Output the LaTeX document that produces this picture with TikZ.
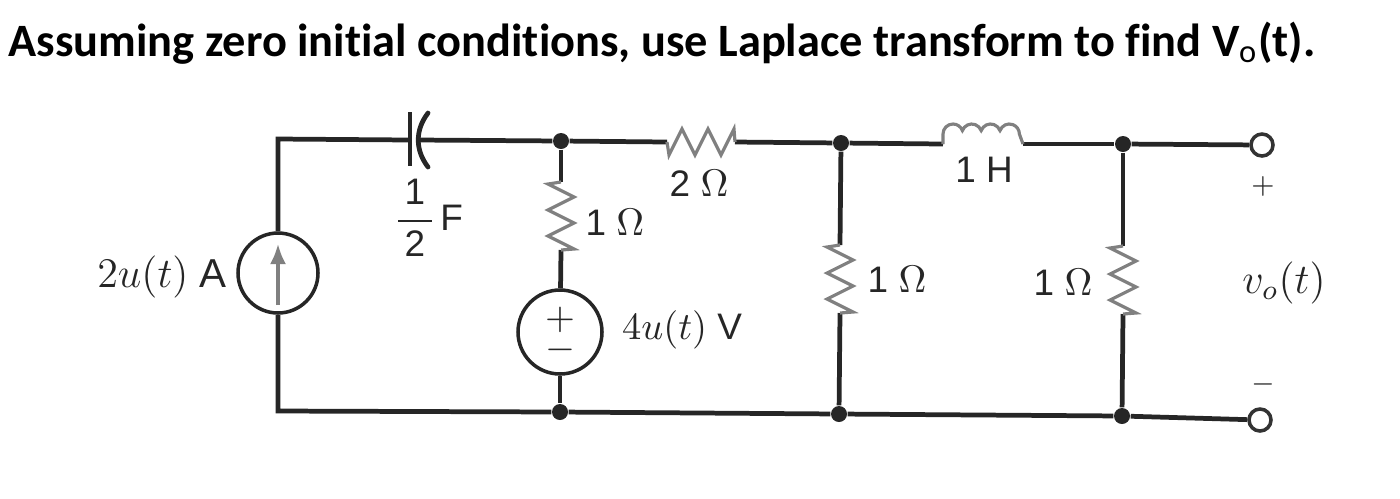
\documentclass[tikz,border=0pt]{standalone}
\usepackage{fontspec}
\setsansfont{Liberation Sans}
\newfontfamily\titlefont[Ligatures=NoCommon]{Carlito}
\usetikzlibrary{positioning, arrows.meta}

\begin{document}
\begin{tikzpicture}[
    wire/.style={draw=black!85, line width=1.35pt},
    source/.style={circle, draw=black!85, line width=1pt, fill=white, inner sep=0pt},
    junction/.style={circle, fill=black!85, inner sep=0pt, minimum size=0.16cm},
    terminal/.style={circle, draw=black!80, line width=1pt, fill=white, inner sep=0pt, minimum size=0.22cm},
    element/.style={draw=black!50, line width=0.9pt},
    zigzag/.pic={\draw[element] (0, 0) -- (0.02, -0.13) -- (0.15, 0.13) -- (0.28, -0.13) -- (0.41, 0.13) -- (0.54, -0.13) -- (0.67, 0.13) -- (0.68, 0);},
    lab/.style={text=black!85, font=\sffamily\fontsize{10.5}{12}\selectfont, inner sep=0pt},
    polarity/.style={text=black!85, font=\fontsize{11}{13}\selectfont, inner sep=0pt, text height=1.5mm, text depth=0pt}
]
\useasboundingbox (0, 0) rectangle (14, 4.98);

% Title
\node[anchor=west, inner sep=0pt] (title) at (0.08, 4.55) {\titlefont\bfseries\fontsize{13.2}{16}\selectfont Assuming zero initial conditions, use Laplace transform to find V\textsubscript{\mdseries o}(t).};

% Corners and element ends
\coordinate (tl) at (2.78, 3.59);
\coordinate (bl) at (2.78, 0.87);
\coordinate (capa) at (4.10, 3.58);
\coordinate (capb) at (4.18, 3.58);
\coordinate (ra) at (6.67, 3.56);
\coordinate (rb) at (7.35, 3.56);
\coordinate (la) at (9.43, 3.54);
\coordinate (lb) at (10.23, 3.54);
\coordinate (vra) at (5.61, 3.16);
\coordinate (vrb) at (5.61, 2.48);
\coordinate (mra) at (8.40, 2.53);
\coordinate (mrb) at (8.40, 1.85);
\coordinate (era) at (11.23, 2.52);
\coordinate (erb) at (11.23, 1.84);

% Junctions and terminals
\node[junction] (ntop) at (5.61, 3.57) {};
\node[junction] (nbot) at (5.60, 0.86) {};
\node[junction] (mtop) at (8.41, 3.55) {};
\node[junction] (mbot) at (8.39, 0.84) {};
\node[junction] (etop) at (11.23, 3.54) {};
\node[junction] (ebot) at (11.22, 0.82) {};

% Sources
\node[source, minimum size=0.80cm] (isrc) at (2.78, 2.25) {};
\node[source, minimum size=0.84cm] (vsrc) at (5.60, 1.66) {};
\draw[element, -{Latex[length=0.2cm, width=0.16cm]}] ([yshift=-0.08cm]isrc.center) ++(0, -0.24) -- ++(0, 0.61);
\node[polarity] (vplus) at (5.60, 1.76) {\smash{$+$}};
\node[polarity] (vminus) at (5.60, 1.46) {\smash{$-$}};

% Wires
\draw[wire] (isrc) -- (tl) -- (capa);
\draw[wire] (capb) -- (ntop) -- (ra);
\draw[wire] (rb) -- (mtop) -- (la);
\draw[wire] (lb) -- (etop);
\draw[wire] (isrc) -- (bl) -- (nbot) -- (mbot) -- (ebot);
\draw[wire] (ntop) -- (vra);
\draw[wire] (vrb) -- (vsrc);
\draw[wire] (vsrc) -- (nbot);
\draw[wire] (mtop) -- (mra);
\draw[wire] (mrb) -- (mbot);
\draw[wire] (etop) -- (era);
\draw[wire] (erb) -- (ebot);

% Resistors
\pic at (ra) {zigzag};
\pic[rotate=-90] at (vra) {zigzag};
\pic[rotate=-90] at (mra) {zigzag};
\pic[rotate=-90] at (era) {zigzag};

% Capacitor
\draw[wire] (4.10, 3.86) -- (4.10, 3.32);
\draw[wire, line cap=round] (4.28, 3.85) .. controls (4.15, 3.68) and (4.15, 3.48) .. (4.28, 3.31);

% Inductor
\draw[element] (la) -- ++(0, 0.1) arc (180:20:0.1 and 0.1) arc (160:20:0.1 and 0.1) arc (160:20:0.1 and 0.1) arc (160:0:0.1 and 0.1) -- (lb);

% Output terminals
\node[terminal] (vtop) at (12.62, 3.53) {};
\node[terminal] (vbot) at (12.60, 0.78) {};
\draw[wire] (etop) -- (vtop);
\draw[wire] (ebot) -- (vbot);

% Labels
\node[lab, font=\sffamily\fontsize{11.5}{13}\selectfont] (isrclab) at (1.62, 2.21) {$2u(t)$ A};
\node[lab] (capval) at (4.15, 2.80) {$\displaystyle\frac{\,\mathsf{1}\,}{\,\mathsf{2}\,}$};
\node[lab, right=0.03cm of capval] (capunit) {F};
\node[lab] (rtop) at (6.99, 3.15) {2 $\Omega$};
\node[lab] (rv) at (6.15, 2.76) {1 $\Omega$};
\node[lab] (vsrclab) at (6.82, 1.68) {$4u(t)$ V};
\node[lab] (rmid) at (8.97, 2.19) {1 $\Omega$};
\node[lab] (rend) at (10.63, 2.16) {1 $\Omega$};
\node[lab] (lval) at (9.84, 3.28) {1 H};
\node[lab, font=\fontsize{8}{10}\selectfont] (oplus) at (12.63, 3.12) {$+$};
\node[lab, font=\fontsize{12}{14}\selectfont] (olab) at (12.84, 2.15) {$v_o(t)$};
\node[lab, font=\fontsize{8}{10}\selectfont] (ominus) at (12.63, 1.14) {$-$};
\end{tikzpicture}
\end{document}
